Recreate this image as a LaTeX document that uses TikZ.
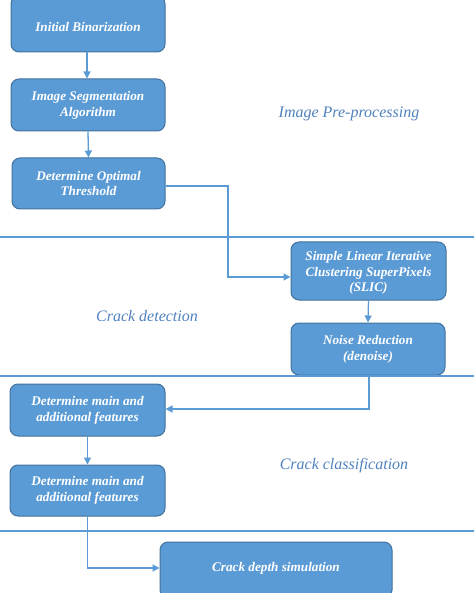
\documentclass[tikz,border=0pt]{standalone}
\usepackage{fontspec}
\setmainfont{Liberation Serif}
\usetikzlibrary{arrows.meta}
\definecolor{boxfill}{HTML}{5B9BD5}
\definecolor{boxdraw}{HTML}{41719C}
\definecolor{linec}{HTML}{5B9BD5}
\definecolor{labc}{HTML}{4F81BD}
\begin{document}
\begin{tikzpicture}[x=1pt,y=-1pt,
  stepbox/.style={draw=boxdraw, fill=boxfill, line width=1pt, rounded corners=8pt, text=white,
     font=\fontsize{13.2}{15.8}\selectfont\bfseries\itshape, align=center, inner sep=0pt},
  boxtext/.style={text=white, align=center, inner sep=0pt, font=\fontsize{13.2}{15.6}\selectfont\bfseries\itshape},
  conn/.style={draw=linec, line width=1.3pt, -{Triangle[length=7pt,width=7pt]}},
  sep/.style={draw=linec, line width=1.5pt},
  phase/.style={text=labc, font=\fontsize{16}{19}\selectfont\itshape}]
\useasboundingbox (0,0) rectangle (474,593);
\node[stepbox, minimum width=154pt, minimum height=56pt] (b1) at (88,24) {};
\node[boxtext] (b1t) at (88,27) {Initial Binarization};
\node[stepbox, minimum width=154pt, minimum height=52pt] (b2) at (88,105) {Image Segmentation\\Algorithm};
\node[stepbox, minimum width=153pt, minimum height=51pt] (b3) at (88.5,183.5) {Determine Optimal\\Threshold};
\node[stepbox, minimum width=155pt, minimum height=58pt] (b4) at (368.5,271) {};
\node[boxtext] (b4t) at (368.5,273) {Simple Linear Iterative\\Clustering SuperPixels\\(SLIC)};
\node[stepbox, minimum width=154pt, minimum height=52pt] (b5) at (368,349) {Noise Reduction\\(denoise)};
\node[stepbox, minimum width=155pt, minimum height=52pt] (b6) at (87.5,410) {Determine main and\\additional features};
\node[stepbox, minimum width=155pt, minimum height=51pt] (b7) at (87.5,490.5) {Determine main and\\additional features};
\node[stepbox, minimum width=232pt, minimum height=56pt] (b8) at (276,570) {};
\node[boxtext] (b8t) at (276,568) {Crack depth simulation};

\coordinate (l1a) at (0,237); \coordinate (l1b) at (474,237);
\coordinate (l2a) at (0,376); \coordinate (l2b) at (474,376);
\coordinate (l3a) at (0,531); \coordinate (l3b) at (474,531);
\draw[sep] (l1a) -- (l1b);
\draw[sep] (l2a) -- (l2b);
\draw[sep] (l3a) -- (l3b);

\node[phase] (p1) at (349,114) {Image Pre-processing};
\node[phase] (p2) at (147,316) {Crack detection};
\node[phase] (p3) at (344,466) {Crack classification};

\draw[conn] (b1.south -| 87,0) -- (b2.north -| 87,0);
\draw[conn] (b2.south) -- (b3.north);
\draw[conn] (b3.east |- 0,186) -| (228,277) -- (b4.west |- 0,277);
\draw[conn] (b4.south) -- (b5.south |- b5.north);
\draw[conn] (b5.south -| 369,0) |- (b6.east |- 0,409);
\draw[conn] (b6.south) -- (b7.north);
\draw[conn] (b7.south) |- (b8.west |- 0,568);
\end{tikzpicture}
\end{document}
